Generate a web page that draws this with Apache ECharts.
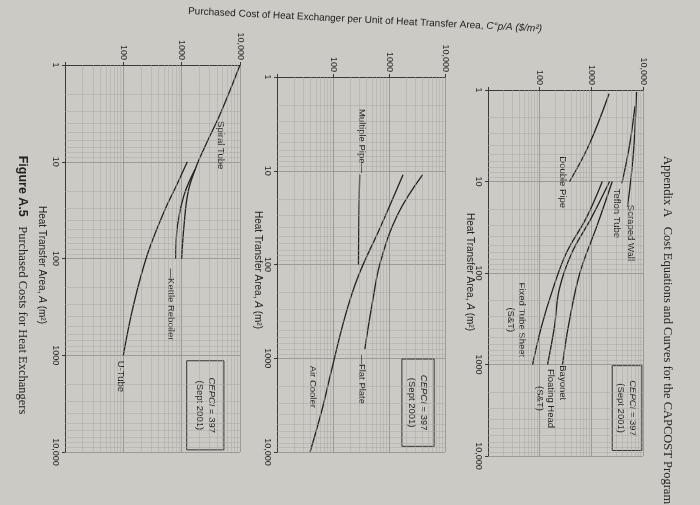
<!DOCTYPE html>
<html><head><meta charset="utf-8">
<script src="https://cdn.jsdelivr.net/npm/echarts@6/dist/echarts.min.js"></script>
<style>html,body{margin:0;padding:0;background:#cbcac4}#c{width:700px;height:505px}</style>
</head><body><div id="c"></div>
<script>
// data pairs: [cost per area ($/m2), area (m2)]
const costTicks = [100, 1000, 10000];
const areaTicks = [1, 10, 100, 1000, 10000];
// left panel
const spiralTube = [[10000,1],[4800,3],[2500,7],[1800,11],[1300,20],[1100,45],[1000,100]];
const kettleReboiler = [[1700,12],[1100,22],[850,45],[790,100]];
const uTube = [[1250,10],[800,18],[520,31],[260,90],[150,300],[100,1000]];
// middle panel
const multiplePipe = [[300,11],[290,30],[285,100]];
const flatPlate = [[4000,11],[1400,30],[700,95],[520,230],[370,800]];
const airCooler = [[1780,11],[700,40],[280,135],[164,360],[90,1500],[64,3500],[39,10000]];
// right panel
const scrapedWall = [[7500,1.05],[6500,5],[5000,19]];
const teflonTube = [[7000,1.5],[5500,4],[3900,10.5]];
const doublePipe = [[2200,1.1],[900,4],[380,10]];
const bayonet = [[2540,10],[1300,30],[600,100],[360,380],[277,1000]];
const floatingHead = [[2250,10],[1000,25],[420,60],[240,150],[194,380],[142,1000]];
const fixedTubeSheet = [[1630,10],[800,25],[330,60],[180,150],[109,380],[73,1000]];

const chart = echarts.init(document.getElementById('c'));
const FONT = 'Liberation Sans';
const grids = [
  {left:65, top:65, width:175, height:387},
  {left:277, top:77, width:168, height:375},
  {left:488, top:90, width:155, height:366}
];
const fmt = v => v >= 10000 ? '10,000' : String(v);
const xAxes = grids.map((g,i)=>({
  type:'log', logBase:10, min:10, max:10000, gridIndex:i, position:'top',
  axisLine:{lineStyle:{color:'#3a3a38',width:1}},
  axisTick:{show:true,length:3,lineStyle:{color:'#3a3a38'}},
  axisLabel:{rotate:90, fontFamily:FONT, fontSize:9, color:'#2a2a2a', margin:5,
    formatter:v=> costTicks.includes(Math.round(v)) ? fmt(Math.round(v)) : ''},
  splitLine:{show:true,lineStyle:{color:'#8f8f8a',width:0.8}}
}));
const yAxes = grids.map((g,i)=>({
  type:'log', logBase:10, min:1, max:10000, gridIndex:i, inverse:true,
  axisLine:{lineStyle:{color:'#3a3a38',width:1}},
  axisTick:{show:true,length:3,lineStyle:{color:'#3a3a38'}},
  axisLabel:{rotate:-90, fontFamily:FONT, fontSize:9, color:'#2a2a2a', margin:5,
    formatter:v=> areaTicks.includes(Math.round(v)) ? fmt(Math.round(v)) : ''},
  splitLine:{show:true,lineStyle:{color:'#8f8f8a',width:0.8}}
}));
function minor(lo, hi){const r=[];for(let d=lo; d<hi; d*=10){for(let k=2;k<=9;k++){r.push(d*k);}}return r;}
const minX = minor(10,10000), minY = minor(1,10000);
const series = [];
grids.forEach((g,i)=>{
  series.push({type:'line', xAxisIndex:i, yAxisIndex:i, data:[], silent:true,
    markLine:{silent:true, symbol:'none', label:{show:false}, animation:false,
      lineStyle:{color:'#a9a9a4', width:0.5, type:'solid'},
      data: minX.map(v=>({xAxis:v})).concat(minY.map(v=>({yAxis:v})))}});
});
const curves = [
  [0, spiralTube],[0, kettleReboiler],[0, uTube],
  [1, multiplePipe],[1, flatPlate],[1, airCooler],
  [2, scrapedWall],[2, teflonTube],[2, doublePipe],[2, bayonet],[2, floatingHead],[2, fixedTubeSheet]
];
curves.forEach(([i,d])=>series.push({type:'line', xAxisIndex:i, yAxisIndex:i, data:d, smooth:0.4,
  showSymbol:false, lineStyle:{color:'#222', width:1.3}, silent:true, animation:false}));

chart.setOption({backgroundColor:'#cbcac4', animation:false, grid:grids, xAxis:xAxes, yAxis:yAxes, series});

const P = (i, c, a) => chart.convertToPixel({gridIndex:i}, [c, a]);
const R = -Math.PI/2;
function vt(i, c, a, text, align, size){
  const p = P(i,c,a);
  return {type:'text', x:p[0], y:p[1], rotation:R, style:{text, fontFamily:FONT, fontSize:size||9.5,
    fill:'#222', align:align||'left', verticalAlign:'middle', lineHeight:11}};
}
function box(i, c1, a1, c2, a2){
  const p1=P(i,c1,a1), p2=P(i,c2,a2);
  const x=Math.min(p1[0],p2[0]), y=Math.min(p1[1],p2[1]), w=Math.abs(p2[0]-p1[0]), h=Math.abs(p2[1]-p1[1]);
  return [{type:'rect', shape:{x,y,width:w,height:h}, style:{fill:'none', stroke:'#333', lineWidth:1}},
    {type:'text', x:x+w/2, y:y+h/2, rotation:R, style:{text:'{i|CEPCI} = 397\n(Sept 2001)', align:'center', verticalAlign:'middle',
      fontFamily:FONT, fontSize:9.5, fill:'#222', lineHeight:12, rich:{i:{fontStyle:'italic', fontFamily:FONT, fontSize:9.5}}}}];
}
const axT = (x,y)=>({type:'text', x, y, rotation:R, style:{text:'Heat Transfer Area, {i|A} (m²)', fontFamily:FONT, fontSize:10, fill:'#222', align:'center', verticalAlign:'middle', rich:{i:{fontStyle:'italic',fontFamily:FONT,fontSize:10}}}});
const g = [
  vt(0,4700,3.8,'Spiral Tube'),
  vt(0,650,127,'—Kettle Reboiler'),
  vt(0,89,1140,'U-Tube'),
  ...box(0,1220,1140,5300,9500),
  vt(1,330,2.2,'Multiple Pipe—'),
  vt(1,330,910,'—Flat Plate'),
  vt(1,44,1200,'Air Cooler'),
  ...box(1,1700,1020,6400,8700),
  vt(2,5860,18,'Scraped Wall'),
  vt(2,3030,12,'Teflon Tube'),
  vt(2,277,5.3,'Double Pipe'),
  vt(2,35,325,'Fixed Tube Sheet\n(S&T)','center'),
  vt(2,277,1020,'Bayonet'),
  vt(2,125,2350,'Floating Head\n(S&T)','center'),
  ...box(2,2540,1030,9500,8700),
  axT(42,265), axT(258,270), axT(470,272),
  {type:'text', x:22, y:285, rotation:R, style:{text:'{b|Figure A.5}   Purchased Costs for Heat Exchangers', fontFamily:'Liberation Serif', fontSize:12.5, fill:'#222', align:'center', verticalAlign:'middle', rich:{b:{fontWeight:'bold', fontFamily:FONT, fontSize:12.5}}}},
  {type:'text', x:365, y:20, rotation:-0.05, style:{text:'Purchased Cost of Heat Exchanger per Unit of Heat Transfer Area, {i|C°p/A ($/m²)}', fontFamily:FONT, fontSize:10, fill:'#222', align:'center', verticalAlign:'middle', rich:{i:{fontStyle:'italic',fontFamily:FONT,fontSize:10}}}},
  {type:'text', x:667, y:330, rotation:R, style:{text:'Appendix A   Cost Equations and Curves for the CAPCOST Program', fontFamily:'Liberation Serif', fontSize:12.5, fill:'#222', align:'center', verticalAlign:'middle'}}
];
chart.setOption({graphic:g});
</script></body></html>
